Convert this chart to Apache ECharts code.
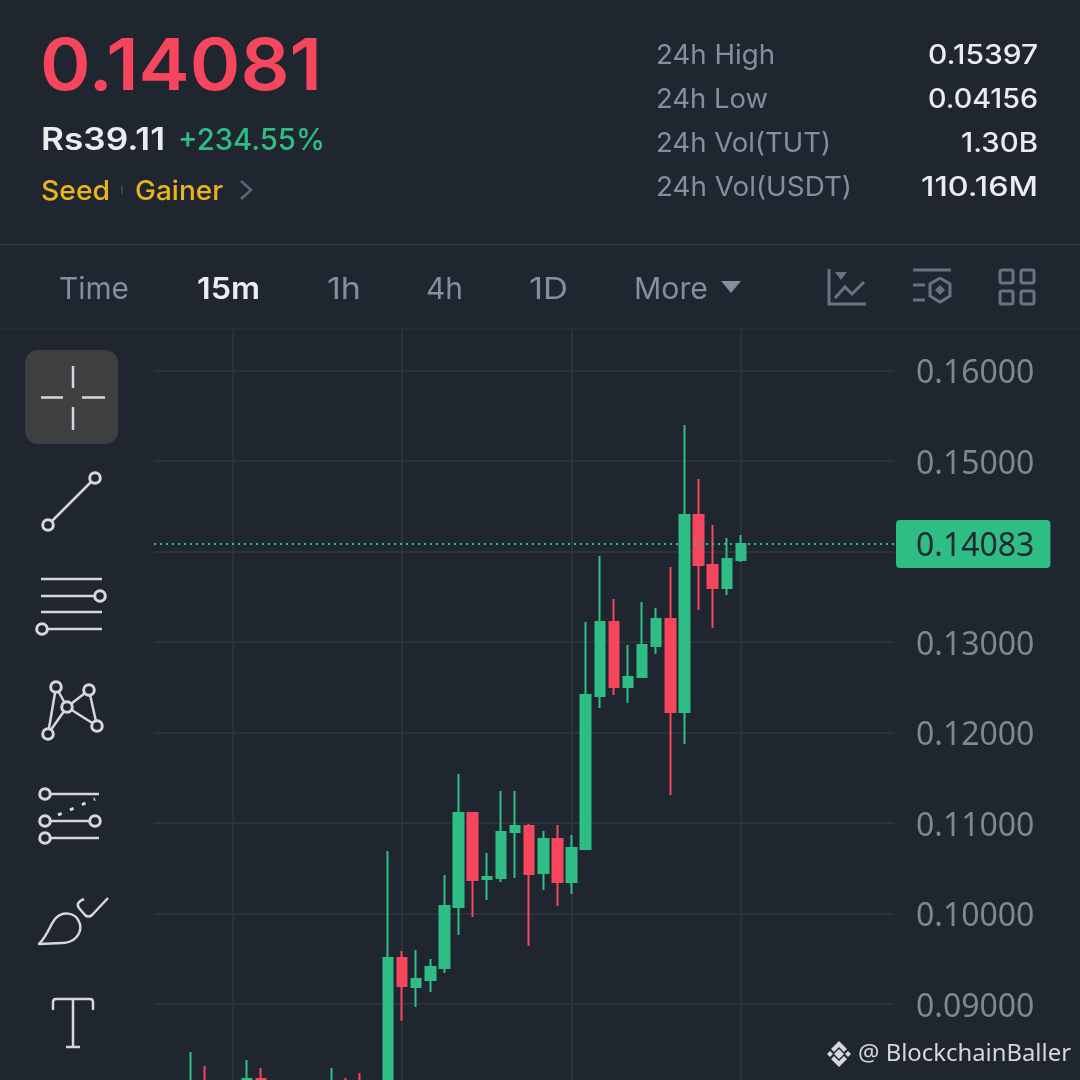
<!DOCTYPE html>
<html><head><meta charset="utf-8">
<style>html,body{margin:0;padding:0;background:#1f2630}#c{width:1080px;height:1080px}</style>
<script src="https://cdn.jsdelivr.net/npm/echarts@6/dist/echarts.min.js"></script>
</head><body><div id="c"></div>
<script>
// Candle slots (15m bars); slot 3 is the first bar that shows in the window
const slots = Array.from({length:53},(_,i)=>String(i));
const firstSlot = 3;
const opens  = [.0800,.0810,.0790,.0795,.0800,.08171,.0800,.0795,.0798,.0795,.0800,.0808,.0810,.0803,.0808,.09508,.09188,.09265,.09398,.10072,.1111,.10381,.10392,.1090,.10967,.10447,.10823,.10348,.10713,.12403,.13221,.12503,.12613,.12956,.13254,.12226,.14403,.13851,.13597,.13906];
const closes = [.0805,.0802,.0795,.0790,.08171,.0805,.0795,.0798,.0795,.0800,.0808,.0802,.0803,.0808,.09508,.09199,.09276,.09409,.10083,.1111,.1037,.10403,.1090,.10967,.10436,.10823,.10348,.10724,.12414,.13221,.12503,.12613,.12967,.13254,.12226,.14403,.13851,.13597,.13917,.14083];
const lows   = [.0795,.0798,.0785,.0785,.0795,.0800,.0790,.0790,.0790,.0790,.0795,.0798,.0800,.0800,.0800,.08815,.08967,.09132,.09342,.09762,.09961,.10149,.10348,.10392,.09641,.1026,.10083,.10215,.10713,.12271,.12414,.12326,.12613,.12867,.11309,.11873,.13354,.13155,.13519,.13884];
const highs  = [.08469,.08315,.0805,.0800,.08381,.08293,.0808,.0805,.0806,.0808,.08293,.08182,.08237,.0812,.1069,.09585,.09597,.09497,.10425,.11541,.1111,.10668,.11353,.11353,.10989,.10912,.10978,.10867,.13221,.1395,.13475,.12967,.13442,.13376,.13829,.15398,.14801,.14293,.14149,.14182];
const lastPrice = 0.14083;

const priceText = "0.14081", fiatText = "Rs39.11", changeText = "+234.55%";
const tagTexts = ["Seed","Gainer"];
const statLabels = ["24h High","24h Low","24h Vol(TUT)","24h Vol(USDT)"];
const statValues = ["0.15397","0.04156","1.30B","110.16M"];
const tabLabels = ["Time","15m","1h","4h","1D","More"];
const watermark = "@ BlockchainBaller";

// Layout of the page furniture, kept apart from the data
const statLabelW = [119,112,175,196], statValueW = [110,110,77,117];
const tabX = [59,197,327,426,529,634], tabW = [70,63,34,37,39,74];

const GREEN="#2ebd85", RED="#f6465d", BG="#1f2630", GRID="#2b323c", MUTED="#848e9c", LIGHT="#eaecef", ICON="#d5d7da", ICON2="#6b7380", GOLD="#eab41e";
const HEAD="Inter, sans-serif", AXIS="'Noto Sans', sans-serif";

echarts.graphic.registerShape('brushHead',echarts.graphic.extendPath("M39 944 C48 935 50 925 55 919 C62 911 76 911 80 924 C82 934 74 943 62 943 Z",{}));
echarts.graphic.registerShape('brushHook',echarts.graphic.extendPath("M84 899 C79 901 76 904 79 908 L85 915 C87 917 90 917 92 915 L108 898",{}));
echarts.graphic.registerShape('textCap',echarts.graphic.extendPath("M53 1010 L53 1002 Q53 999 56 999 L90 999 Q93 999 93 1002 L93 1010",{}));

const mctx=document.createElement('canvas').getContext('2d');
const g=[];
// Draws a text, stretched horizontally to the width it has in the reference
const txt=(text,x,y,font,fill,align,w)=>{
  mctx.font=font;
  const sx=w?w/mctx.measureText(text).width:1;
  g.push({type:'text',silent:true,x,y,scaleX:sx,scaleY:1,style:{text,x:0,y:0,font,fill,textAlign:align||'left',textVerticalAlign:'middle'}});
};
const line=(x1,y1,x2,y2,stroke,lw,dash)=>g.push({type:'line',silent:true,shape:{x1,y1,x2,y2},style:{stroke:stroke||ICON,lineWidth:lw||2.5,lineDash:dash||null}});
const ring=(cx,cy)=>g.push({type:'circle',silent:true,shape:{cx,cy,r:5.3},style:{fill:BG,stroke:ICON,lineWidth:3}});
const shape=(type)=>g.push({type,silent:true,style:{stroke:ICON,lineWidth:2.5,fill:null,lineJoin:'round'}});
const poly=(points,opt)=>g.push({type:'polyline',silent:true,shape:{points},style:Object.assign({stroke:ICON,lineWidth:2.5,fill:null},opt||{})});
const gon=(points,fill)=>g.push({type:'polygon',silent:true,shape:{points},style:{fill}});

// Header
txt(priceText,40,68,"600 72px "+HEAD,RED,'left',282);
txt(fiatText,41,141,"600 31px "+HEAD,LIGHT,'left',124);
txt(changeText,178,141,"500 30px "+HEAD,GREEN,'left',147);
txt(tagTexts[0],41,192,"500 27px "+HEAD,GOLD,'left',69);
txt(tagTexts[1],135,192,"500 27px "+HEAD,GOLD,'left',88);
line(122,186,122,194,"#3e4550",2);
poly([[241,181],[251,190],[241,199]],{stroke:"#5e6673",lineWidth:2.5});
statLabels.forEach((s,i)=>{
  txt(s,656,56+44*i,"400 27px "+HEAD,MUTED,'left',statLabelW[i]);
  txt(statValues[i],1038,56+44*i,"500 27px "+HEAD,LIGHT,'right',statValueW[i]);
});
line(0,244.5,1080,244.5,"#333b47",1.5);
// Tabs
tabLabels.forEach((s,i)=>txt(s,tabX[i],290,(i===1?"600":"400")+" 30px "+HEAD,i===1?LIGHT:MUTED,'left',tabW[i]));
gon([[721,281],[741,281],[731,293]],MUTED);
line(0,329,1080,329,"#272e38",2);
// Tab bar icons
poly([[829,269],[829,304],[866,304]],{stroke:ICON2,lineWidth:3});
gon([[835,272],[847,272],[841,280]],ICON2);
poly([[835,298],[845,287],[852,294],[864,282]],{stroke:ICON2,lineWidth:3});
line(913,270,951,270,ICON2,3);
line(913,285,925,285,ICON2,3);
line(913,300,925,300,ICON2,3);
poly([[940,278],[950,284],[950,296],[940,302],[930,296],[930,284],[940,278]],{stroke:ICON2,lineWidth:3});
gon([[940,285],[945,290],[940,295],[935,290]],ICON2);
[[1000,270],[1021,270],[1000,291],[1021,291]].forEach(p=>g.push({type:'rect',silent:true,shape:{x:p[0],y:p[1],width:13,height:13,r:2},style:{fill:null,stroke:ICON2,lineWidth:3}}));
// Left tools
g.push({type:'rect',silent:true,shape:{x:25,y:350,width:93,height:94,r:13},style:{fill:"#3e3f41"}});
line(41,397.5,63,397.5);line(82,397.5,105,397.5);line(73,366,73,388);line(73,407,73,430);
line(48,525,95,478);ring(48,525);ring(95,478);
line(41,579,102,579);line(41,596,95,596);ring(100,596);line(41,612,102,612);line(48,629,102,629);ring(42,629);
[[[48,734],[56,687]],[[56,687],[67,707]],[[67,707],[89,690]],[[89,690],[97,726]],[[48,734],[67,707]],[[67,707],[97,726]]].forEach(s=>line(s[0][0],s[0][1],s[1][0],s[1][1]));
[[56,687],[89,690],[67,707],[48,734],[97,726]].forEach(p=>ring(p[0],p[1]));
line(50,794,99,794);ring(45,794);line(58,815,95,799,ICON,3,[4,9]);line(50,821,90,821);ring(45,821);ring(95,821);line(50,838,99,838);ring(45,838);
shape('brushHead');shape('brushHook');shape('textCap');
line(73,999,73,1047);line(66,1047,80,1047);
// Watermark
gon([[839,1049],[844,1054],[839,1059],[834,1054]],ICON);
gon([[839,1041],[847,1049],[844,1052],[839,1047],[834,1052],[831,1049]],ICON);
gon([[839,1067],[847,1059],[844,1056],[839,1061],[834,1056],[831,1059]],ICON);
gon([[827,1054],[830,1051],[833,1054],[830,1057]],ICON);
gon([[851,1054],[848,1051],[845,1054],[848,1057]],ICON);
txt(watermark,858,1054,"400 24px "+AXIS,ICON,'left',213);

const candleData = slots.map((_,i)=>{
  const k=i-firstSlot;
  return (k>=0&&k<opens.length)?[opens[k],closes[k],lows[k],highs[k]]:'-';
});

const chart=echarts.init(document.getElementById('c'),null,{renderer:'canvas'});
chart.setOption({
  animation:false,
  backgroundColor:BG,
  grid:[
    {left:154,width:740,top:370.5,height:633.5,containLabel:false},
    {left:148,width:734.1,top:330,height:750}
  ],
  xAxis:[
    {gridIndex:0,type:'value',min:0,max:1,show:false,splitLine:{show:false}},
    {gridIndex:1,type:'category',boundaryGap:false,data:slots,axisLine:{show:false},axisTick:{show:false},axisLabel:{show:false},
     splitLine:{show:true,interval:(i)=>i%12===6,lineStyle:{color:GRID,width:2}}}
  ],
  yAxis:[
    {gridIndex:0,type:'value',position:'right',min:0.09,max:0.16,interval:0.01,axisLine:{show:false},axisTick:{show:false},
     axisLabel:{formatter:v=>'{t|'+v.toFixed(5)+'}',margin:22,
       rich:{t:{color:"#7f8791",fontFamily:"Noto Sans",fontSize:32,padding:[7,0,0,0]}}},
     splitLine:{show:true,lineStyle:{color:GRID,width:2}}},
    {gridIndex:1,type:'value',min:0.0816,max:0.164475,show:false,splitLine:{show:false}}
  ],
  series:[
    {type:'line',xAxisIndex:0,yAxisIndex:0,data:[[0,lastPrice],[1,lastPrice]],symbol:'none',silent:true,
     lineStyle:{color:GREEN,width:2,type:[2,4]},
     endLabel:{show:true,formatter:()=>'{v|'+lastPrice.toFixed(5)+'}',distance:2,
       backgroundColor:GREEN,borderRadius:4,padding:[5,16,5,20],
       rich:{v:{color:"#1f2630",fontFamily:"Noto Sans",fontSize:32,padding:[6,0,0,0]}}}},
    {type:'candlestick',xAxisIndex:1,yAxisIndex:1,data:candleData,barWidth:10,silent:true,clip:true,
     itemStyle:{color:GREEN,color0:RED,borderColor:GREEN,borderColor0:RED,borderWidth:2}}
  ],
  graphic:g
});
</script></body></html>
